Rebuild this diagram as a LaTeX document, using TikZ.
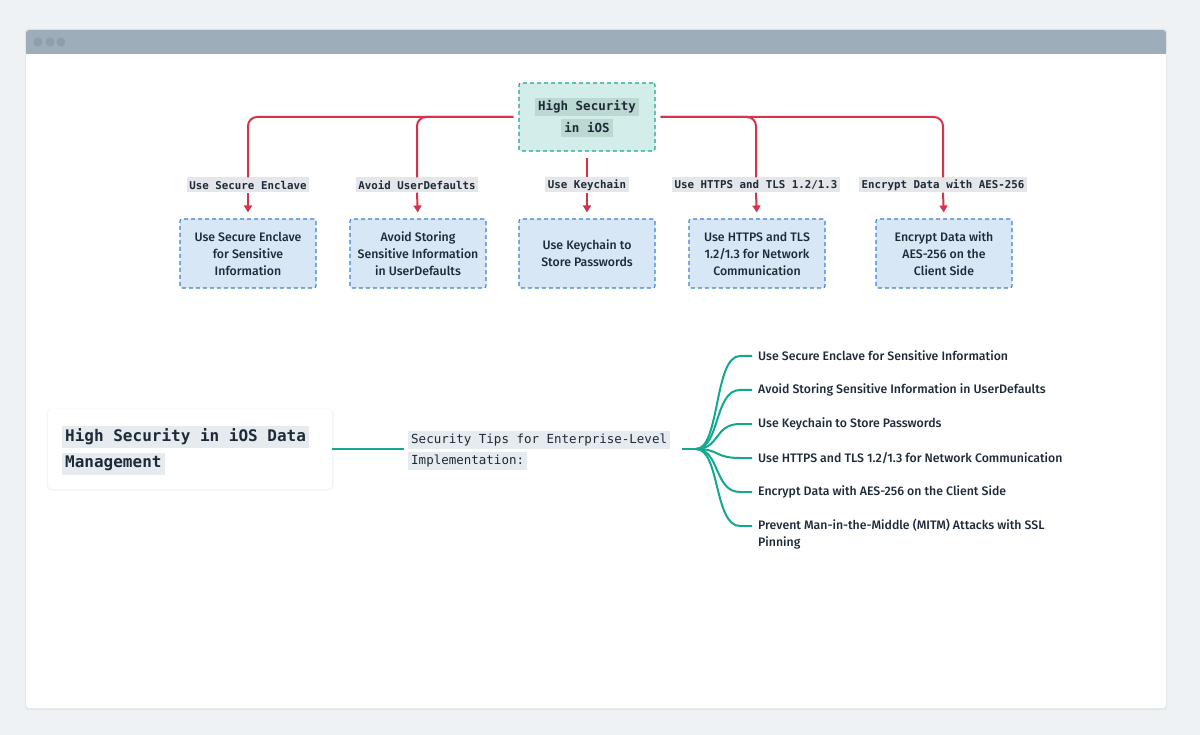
\documentclass[tikz,border=0pt]{standalone}
\usepackage{fontspec}
\setmainfont{Fira Sans}[UprightFont=* Medium]
\setmonofont{DejaVu Sans Mono}
\usetikzlibrary{arrows.meta}
\definecolor{bgc}{HTML}{EEF2F5}
\definecolor{barc}{HTML}{9DADBA}
\definecolor{dotc}{HTML}{8E9EAC}
\definecolor{redc}{HTML}{D6334B}
\definecolor{tealc}{HTML}{14A88E}
\definecolor{rootfill}{HTML}{D3EEEA}
\definecolor{rootdraw}{HTML}{1DA58E}
\definecolor{roothl}{HTML}{BBD8D3}
\definecolor{boxfill}{HTML}{D7E7F6}
\definecolor{boxdraw}{HTML}{3D84D6}
\definecolor{lblfill}{HTML}{E4E6E9}
\definecolor{txt}{HTML}{1E2A38}
\definecolor{hl}{HTML}{E6EBF0}
\definecolor{shadowc}{HTML}{E2E7EB}
\tikzset{
  redline/.style={draw=redc, line width=2pt, rounded corners=9pt},
  redarrow/.style={draw=redc, line width=2pt, -{Triangle[width=8pt,length=7pt]}, shorten >=6pt},
  tealline/.style={draw=tealc, line width=2pt},
  rootbox/.style={draw=rootdraw, fill=rootfill, dash pattern=on 4pt off 3pt, line width=1.1pt,
    rounded corners=2pt, minimum width=136pt, minimum height=68pt},
  roottext/.style={fill=roothl, font=\fontsize{12.5}{14}\ttfamily\bfseries, text=txt,
    inner xsep=3pt, inner ysep=0pt, minimum height=18pt},
  childbox/.style={draw=boxdraw, fill=boxfill, dash pattern=on 4pt off 3pt, line width=1.1pt,
    rounded corners=2pt, minimum width=136pt, minimum height=69pt, align=center,
    font=\fontsize{12.3}{17}\selectfont, text=txt},
  lbl/.style={fill=lblfill, font=\fontsize{10.8}{12}\ttfamily\bfseries, text=txt,
    inner xsep=2.5pt, inner ysep=0pt, minimum height=15pt},
  bigtext/.style={fill=hl, font=\fontsize{16}{18}\ttfamily\bfseries, text=txt,
    inner xsep=3pt, inner ysep=0pt, minimum height=22pt, anchor=west},
  midtext/.style={fill=hl, font=\fontsize{12.5}{14}\ttfamily, text=txt,
    inner xsep=3pt, inner ysep=0pt, minimum height=18pt, anchor=west},
  item/.style={font=\fontsize{12.3}{17}\selectfont, text=txt, anchor=west, inner xsep=6pt,
    inner ysep=2pt, align=left},
}
\begin{document}
\begin{tikzpicture}[x=1pt,y=-1pt]
\useasboundingbox (0,0) rectangle (1200,735);
\fill[bgc] (0,0) rectangle (1200,735);
% window
\fill[shadowc, rounded corners=3pt] (25,29) rectangle (1167,710);
\fill[white, rounded corners=3pt] (26,30) rectangle (1166,708);
\fill[barc, rounded corners=3pt] (26,30) rectangle (1166,54);
\fill[barc] (26,44) rectangle (1166,54);
\foreach \dx in {38,50,61} \fill[dotc] (\dx,42) circle (4.5pt);

% ---------- top tree ----------
\node[rootbox] (root) at (587,117) {};
\node[roottext] (rootl1) at (587,107) {High Security\ };
\node[roottext] (rootl2) at (587,128) {in iOS};

\node[lbl] (l1) at (248,185) {Use Secure Enclave};
\node[lbl] (l2) at (417,185) {Avoid UserDefaults};
\node[lbl] (l3) at (587,185) {Use Keychain};
\node[lbl] (l4) at (756,185) {Use HTTPS and TLS 1.2/1.3};
\node[lbl] (l5) at (943,185) {Encrypt Data with AES-256};

\node[childbox] (c1) at (248,253.5) {Use Secure Enclave\\for Sensitive\\Information};
\node[childbox] (c2) at (418,253.5) {Avoid Storing\\Sensitive Information\\in UserDefaults};
\node[childbox] (c3) at (587,253.5) {Use Keychain to\\Store Passwords};
\node[childbox] (c4) at (757,253.5) {Use HTTPS and TLS\\1.2/1.3 for Network\\Communication};
\node[childbox] (c5) at (944,253.5) {Encrypt Data with\\AES-256 on the\\Client Side};

\draw[redline, shorten <=5pt] (root.west) -| (l1.north);
\draw[redline, shorten <=5pt] (root.west) -| (l2.north);
\draw[redline, shorten <=5pt] (root.east) -| (l4.north);
\draw[redline, shorten <=5pt] (root.east) -| (l5.north);
\draw[redline, shorten <=6pt] (root.south) -- (l3.north);

\draw[redarrow] (l1.south) -- (c1.north);
\draw[redarrow] (l2.south) -- (c2.north);
\draw[redarrow] (l3.south) -- (c3.north);
\draw[redarrow] (l4.south) -- (c4.north);
\draw[redarrow] (l5.south) -- (c5.north);

% ---------- bottom mind map ----------
\fill[shadowc!45, rounded corners=5pt] (46.5,408.5) rectangle (333.5,490.5);
\node[fill=white, rounded corners=4pt, minimum width=284pt, minimum height=80pt] (root2) at (190,449) {};
\node[bigtext] (r2l1) at (62,437) {High Security in iOS Data\ };
\node[bigtext] (r2l2) at (62,463.5) {Management};

\node[minimum width=278pt, minimum height=40pt, inner sep=0pt] (mid) at (543,449) {};
\node[midtext] (midl1) at (408,440) {Security Tips for Enterprise-Level\ };
\node[midtext] (midl2) at (408,461) {Implementation:};

\draw[tealline] (root2.east) -- (mid.west);
\coordinate (fork) at (696,449);
\draw[tealline] (mid.east) -- (fork);

\node[item] (i1) at (752,356) {Use Secure Enclave for Sensitive Information};
\node[item] (i2) at (752,390) {Avoid Storing Sensitive Information in UserDefaults};
\node[item] (i3) at (752,424) {Use Keychain to Store Passwords};
\node[item] (i4) at (752,458) {Use HTTPS and TLS 1.2/1.3 for Network Communication};
\node[item] (i5) at (752,492) {Encrypt Data with AES-256 on the Client Side};
\node[item, anchor=north west] (i6) at (752,517) {Prevent Man-in-the-Middle (MITM) Attacks with SSL\\Pinning};

\foreach \n/\y in {i1/356,i2/390,i3/424,i4/458,i5/492}
  \draw[tealline] (fork) .. controls (720,449) and (714,\y) .. (740,\y) -- (\n.west);
\draw[tealline] (fork) .. controls (720,449) and (714,526) .. (740,526) -- ([yshift=-9pt]i6.north west);
\end{tikzpicture}
\end{document}
